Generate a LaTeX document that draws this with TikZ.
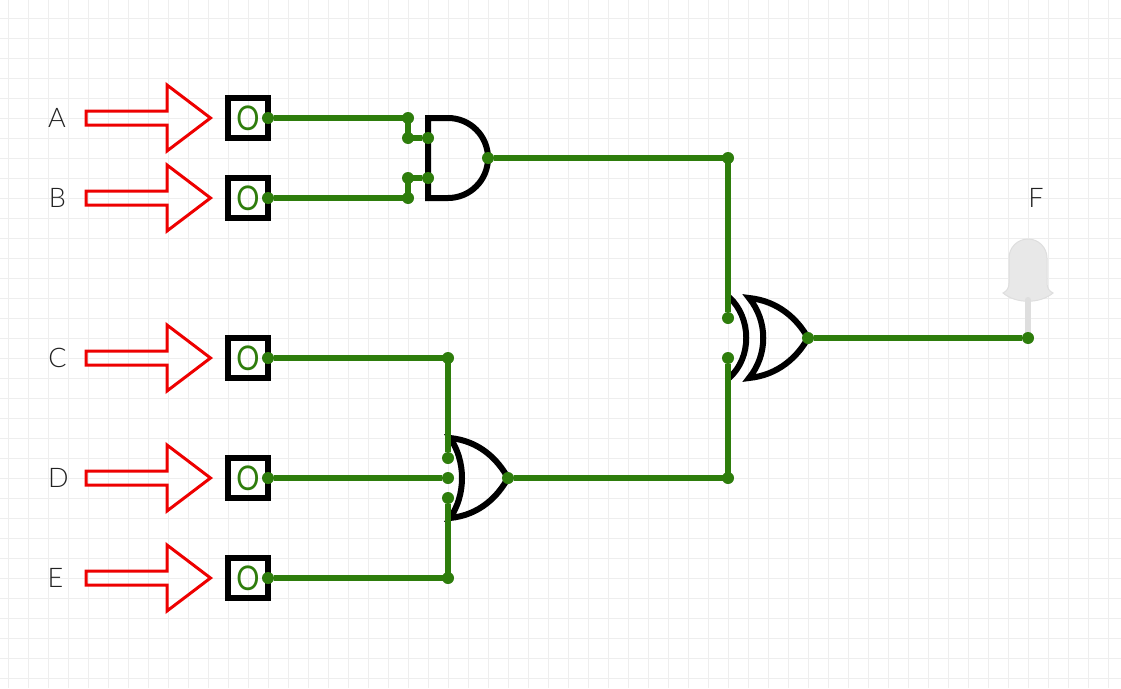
\documentclass[tikz,border=0pt]{standalone}
\usepackage{fontspec}
\usepackage{graphicx}
\setmainfont{Lato Light}
\newfontfamily\boxfont{Lato}
\definecolor{wiregreen}{HTML}{2E7D0C}
\definecolor{arrowred}{HTML}{EE0000}
\definecolor{gridgray}{HTML}{EEEEEE}
\definecolor{ledgray}{HTML}{E8E8E8}
\definecolor{ledline}{HTML}{DEDEDE}
\definecolor{labelgray}{HTML}{222222}

\begin{document}
\begin{tikzpicture}[
	x=1pt, y=-1pt,
	wire/.style={draw=wiregreen, line width=6pt},
	wdot/.style={circle, fill=wiregreen, inner sep=0pt, minimum size=12pt},
	gate/.style={draw=black, line width=6pt},
	inbox/.style={rectangle, draw=black, line width=6pt, inner sep=0pt, minimum size=40pt, text=wiregreen, font=\boxfont\fontsize{34}{34}\selectfont},
	inarrow/.style={draw=arrowred, line width=3pt, miter limit=10},
	letter/.style={text=labelgray, inner sep=0pt, font=\fontsize{27}{27}\selectfont},
	gridline/.style={draw=gridgray, line width=1pt}
	]

	\useasboundingbox (0,0) rectangle (1121,688);
	\fill[white] (0,0) rectangle (1121,688);

	% grid
	\foreach \gx in {8,28,...,1120}
		\draw[gridline] (\gx,0) -- (\gx,688);
	\foreach \gy in {18,38,...,680}
		\draw[gridline] (0,\gy) -- (1121,\gy);

	% inputs
	\foreach \name/\lab/\lx/\gy in {a/A/57/118, b/B/57.5/198, c/C/57.5/358, d/D/58.5/478, e/E/55.5/578} {
		\node[letter] (lab\name) at (\lx,\gy) {\lab};
		\draw[inarrow, shift={(0,\gy)}] (86,-7) -- (167,-7) -- (167,-33) -- (210.5,0) -- (167,33) -- (167,7) -- (86,7) -- cycle;
		\node[inbox] (in\name) at (248,\gy) {\scalebox{.85}[1]{O}};
		\node[wdot] (out\name) at (268,\gy) {};
	}

	% gates
	\draw[gate] (428,118) -- (448,118) arc[start angle=-90, end angle=90, radius=40] -- (428,198) -- cycle;
	\draw[gate, line join=miter] (450,438) .. controls (480,441) and (498,460) .. (508,478) .. controls (498,496) and (480,515) .. (450,518) .. controls (466,495) and (466,461) .. cycle;
	\draw[gate] (729,297) .. controls (752,318) and (752,358) .. (729,378);
	\draw[gate, line join=miter] (749,298) .. controls (779,301) and (798,320) .. (808,338) .. controls (798,356) and (779,375) .. (749,378) .. controls (768,355) and (768,321) .. cycle;

	% led
	\draw[draw=ledline, fill=ledgray, line width=1pt] (1009,258) arc[start angle=180, end angle=360, radius=19] -- (1047,283) .. controls (1047,288) and (1049,291) .. (1053,293) .. controls (1040,304) and (1016,304) .. (1003,293) .. controls (1007,291) and (1009,288) .. (1009,283) -- cycle;
	\draw[draw=ledline, line width=6pt, line cap=round] (1028,300) -- (1028,338);
	\node[letter] (labf) at (1036,198) {F};

	% junction dots
	\node[wdot] (a1) at (408,118) {};
	\node[wdot] (a2) at (408,138) {};
	\node[wdot] (anda) at (428,138) {};
	\node[wdot] (b1) at (408,198) {};
	\node[wdot] (b2) at (408,178) {};
	\node[wdot] (andb) at (428,178) {};
	\node[wdot] (andout) at (488,158) {};
	\node[wdot] (c1) at (448,358) {};
	\node[wdot] (ora) at (448,458) {};
	\node[wdot] (orb) at (448,478) {};
	\node[wdot] (orc) at (448,498) {};
	\node[wdot] (e1) at (448,578) {};
	\node[wdot] (orout) at (508,478) {};
	\node[wdot] (and1) at (728,158) {};
	\node[wdot] (xora) at (728,318) {};
	\node[wdot] (or1) at (728,478) {};
	\node[wdot] (xorb) at (728,358) {};
	\node[wdot] (xorout) at (808,338) {};
	\node[wdot] (led) at (1028,338) {};

	% wires
	\draw[wire] (outa) -- (a1.center) -- (a2.center) -- (anda);
	\draw[wire] (outb) -- (b1.center) -- (b2.center) -- (andb);
	\draw[wire] (outc) -- (c1.center) -- (ora);
	\draw[wire] (outd) -- (orb);
	\draw[wire] (oute) -- (e1.center) -- (orc);
	\draw[wire] (andout) -- (and1.center) -- (xora);
	\draw[wire] (orout) -- (or1.center) -- (xorb);
	\draw[wire] (xorout) -- (led);

\end{tikzpicture}
\end{document}
